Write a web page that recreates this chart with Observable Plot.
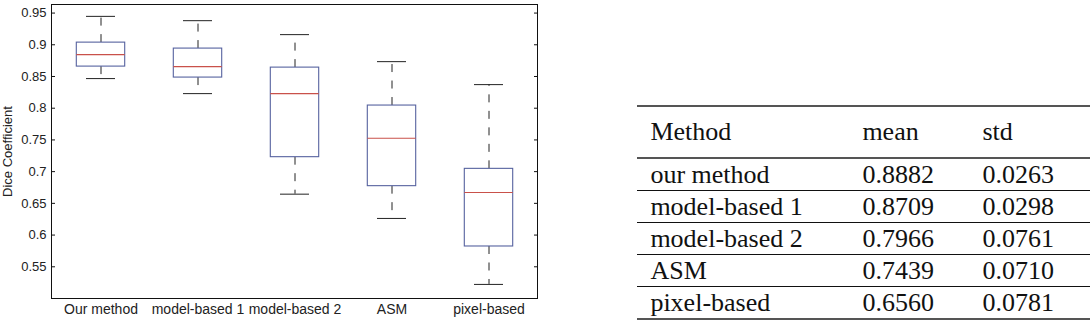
<!DOCTYPE html>
<html><head><meta charset="utf-8">
<script src="https://cdn.jsdelivr.net/npm/d3@7"></script>
<script src="https://cdn.jsdelivr.net/npm/@observablehq/plot@0.6"></script>
<style>
body{margin:0;background:#fff;}
#wrap{position:relative;width:1092px;height:322px;overflow:hidden;background:#fff;}
#chart{position:absolute;left:0;top:0;}
#tbl{position:absolute;left:637px;top:105px;border-collapse:collapse;table-layout:fixed;width:453px;
  font-family:"Liberation Serif","Times New Roman",serif;font-size:26px;color:#111;border-top:2px solid #555;}
#tbl td{padding:0;vertical-align:bottom;line-height:26px;white-space:nowrap;overflow:visible;}
#tbl tr.head td{height:38px;padding-bottom:12px;border-bottom:2px solid #555;}
#tbl tr.row td{height:28.5px;padding-bottom:2.5px;border-bottom:1px solid #111;}
#tbl tr.row.last td{border-bottom:2px solid #555;}
#tbl td.c0{padding-left:13.4px;width:212px;}
#tbl td.c1{width:120px;}
#tbl td.c2{width:107.6px;}
</style></head>
<body><div id="wrap"><div id="chart"></div><table id="tbl"></table></div>
<script>
// Box plot summary values
const methods = ["Our method", "model-based 1", "model-based 2", "ASM", "pixel-based"];
const whiskerLow  = [0.8467, 0.8230, 0.6645, 0.6262, 0.5222];
const quart1      = [0.8656, 0.8483, 0.7228, 0.6771, 0.5820];
const median      = [0.8845, 0.8656, 0.8230, 0.7527, 0.6672];
const quart3      = [0.9034, 0.8940, 0.8640, 0.8042, 0.7044];
const whiskerHigh = [0.9448, 0.9380, 0.9160, 0.8734, 0.8372];
const yTicks = [0.55, 0.6, 0.65, 0.7, 0.75, 0.8, 0.85, 0.9, 0.95];
const yLabel = "Dice Coefficient";

// Table values
const tableColumns = ["Method", "mean", "std"];
const tableMethods = ["our method", "model-based 1", "model-based 2", "ASM", "pixel-based"];
const tableMean = ["0.8882", "0.8709", "0.7966", "0.7439", "0.6560"];
const tableStd  = ["0.0263", "0.0298", "0.0761", "0.0710", "0.0781"];

const data = methods.map((m, i) => ({
  m, lo: whiskerLow[i], q1: quart1[i], med: median[i], q3: quart3[i], hi: whiskerHigh[i]
}));

const boxInset = 24.3, capInset = 34;
const font = "'Liberation Sans', Arial, Helvetica, sans-serif";

const chart = Plot.plot({
  width: 545, height: 322,
  marginLeft: 51, marginRight: 8, marginTop: 4, marginBottom: 24,
  style: {fontFamily: font, fontSize: "14px", color: "#222", background: "#fff", overflow: "visible"},
  x: {domain: methods, padding: 0, label: null},
  y: {domain: [0.5, 0.9635], label: null},
  marks: [
    Plot.ruleX(data, {x: "m", y1: "q3", y2: "hi", stroke: "#222", strokeDasharray: "8,8.5"}),
    Plot.ruleX(data, {x: "m", y1: "q1", y2: "lo", stroke: "#222", strokeDasharray: "8,8.5"}),
    Plot.tickY(data, {x: "m", y: "hi", stroke: "#222", insetLeft: capInset, insetRight: capInset}),
    Plot.tickY(data, {x: "m", y: "lo", stroke: "#222", insetLeft: capInset, insetRight: capInset}),
    Plot.barY(data, {x: "m", y1: "q1", y2: "q3", fill: "#fff", stroke: "#56629f", strokeWidth: 1.1,
      insetLeft: boxInset, insetRight: boxInset}),
    Plot.tickY(data, {x: "m", y: "med", stroke: "#c9514a", strokeWidth: 1.1, insetLeft: boxInset, insetRight: boxInset}),
    Plot.frame({stroke: "#111"}),
    Plot.axisY({anchor: "left", ticks: yTicks, tickSize: 4, insetLeft: 4, stroke: "#111", fill: "none", label: null}),
    Plot.axisY({anchor: "right", ticks: yTicks, tickSize: 4, insetRight: 4, stroke: "#111", fill: "none", label: null}),
    Plot.axisY({anchor: "left", ticks: yTicks, tickSize: 0, tickPadding: 5, tickFormat: d => String(d),
      fontSize: 13, fill: "#222", label: yLabel, labelAnchor: "center", labelOffset: 49, labelArrow: "none"}),
    Plot.axisX({anchor: "bottom", tickSize: 0, tickPadding: 6, label: null, fill: "#222"})
  ]
});
document.getElementById("chart").appendChild(chart);

// Table
const tbl = document.getElementById("tbl");
const mk = (cls, cells) => {
  const tr = document.createElement("tr");
  tr.className = cls;
  cells.forEach((c, j) => {
    const td = document.createElement("td");
    td.className = "c" + j;
    td.textContent = c;
    tr.appendChild(td);
  });
  tbl.appendChild(tr);
};
mk("head", tableColumns);
tableMethods.forEach((m, i) => mk("row" + (i === tableMethods.length - 1 ? " last" : ""), [m, tableMean[i], tableStd[i]]));
</script>
</body></html>
